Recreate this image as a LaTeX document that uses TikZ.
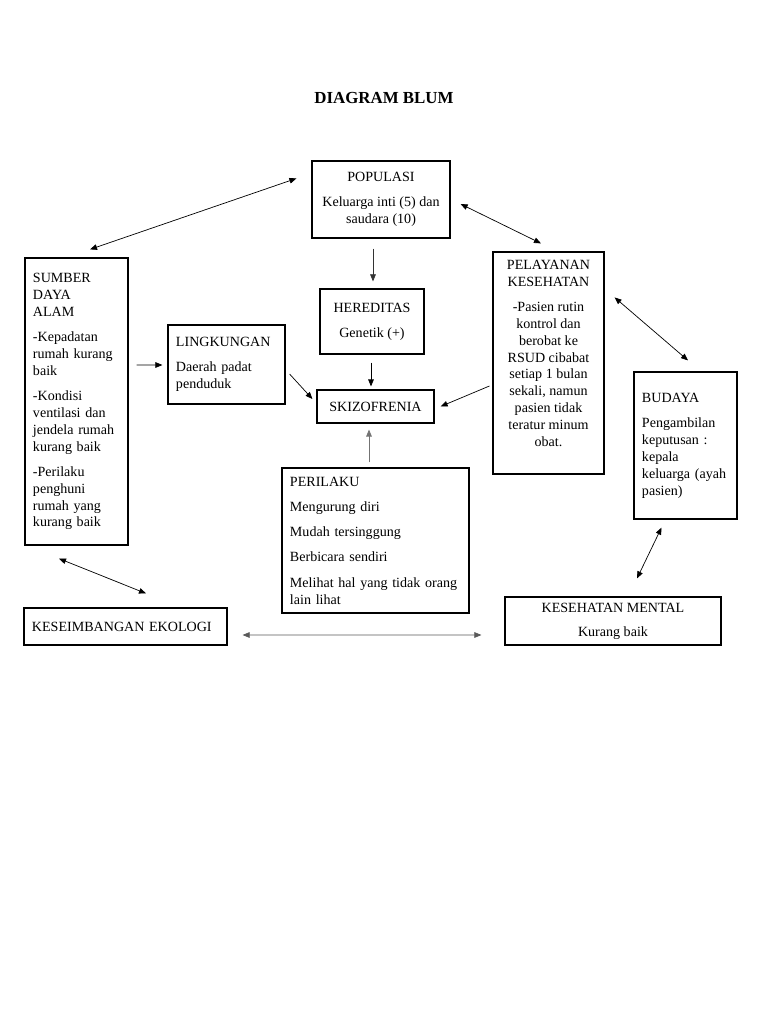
\documentclass[tikz,border=0pt]{standalone}
\usepackage{fontspec}
\setmainfont{Liberation Serif}
\usetikzlibrary{arrows.meta}

\begin{document}
\begin{tikzpicture}[x=0.025cm,y=-0.025cm,
  every node/.style={font=\fontsize{10}{12}\selectfont},
  kotak/.style={draw,line width=0.8pt,inner ysep=2pt},
  kiri/.style={kotak,align=left,inner xsep=0.2cm},
  tengah/.style={kotak,align=center},
  panah/.style={-{Triangle[length=5pt,width=4pt]},line width=0.5pt},
  duapanah/.style={{Triangle[length=5pt,width=4pt]}-{Triangle[length=5pt,width=4pt]},line width=0.5pt}]
\useasboundingbox (0,0) rectangle (768,1024);

\node[font=\fontsize{12}{14}\selectfont\bfseries] (judul) at (384,98) {DIAGRAM BLUM};

\node[tengah,minimum width=3.45cm,minimum height=1.925cm] (pop) at (381,199.5)
  {POPULASI\\[6pt]Keluarga inti (5) dan\\saudara (10)};
\node[tengah,minimum width=2.6cm,minimum height=1.625cm] (her) at (372,321.5)
  {HEREDITAS\\[6pt]Genetik (+)};
\node[tengah,minimum width=2.925cm,minimum height=0.825cm] (skz) at (375.5,406.5)
  {SKIZOFRENIA};
\node[tengah,minimum width=2.775cm,minimum height=5.55cm] (pel) at (548.5,363)
  {PELAYANAN\\KESEHATAN\\[6pt]-Pasien rutin\\kontrol dan\\berobat ke\\RSUD cibabat\\setiap 1 bulan\\sekali, namun\\pasien tidak\\teratur minum\\obat.\\[2pt]~};
\node[tengah,minimum width=5.4cm,minimum height=1.2cm] (kmen) at (613,621)
  {KESEHATAN MENTAL\\[5pt]Kurang baik};

\node[kiri,text width=2.175cm,minimum height=7.175cm] (sda) at (76.5,401.5)
  {SUMBER\\DAYA\\ALAM\\[6pt]-Kepadatan\\rumah kurang\\baik\\[6pt]-Kondisi\\ventilasi dan\\jendela rumah\\kurang baik\\[6pt]-Perilaku\\penghuni\\rumah yang\\kurang baik};
\node[kiri,text width=2.525cm,minimum height=1.975cm] (lin) at (226.5,364.5)
  {LINGKUNGAN\\[6pt]Daerah padat\\penduduk};
\node[kiri,text width=2.175cm,minimum height=3.675cm] (bud) at (685.5,445.5)
  {BUDAYA\\[6pt]Pengambilan\\keputusan :\\kepala\\keluarga (ayah\\pasien)};
\node[kiri,text width=4.275cm,minimum height=3.625cm] (per) at (375.5,540.5)
  {PERILAKU\\[6pt]Mengurung diri\\[6pt]Mudah tersinggung\\[6pt]Berbicara sendiri\\[6pt]Melihat hal yang tidak orang\\lain lihat};
\node[kiri,text width=4.675cm,minimum height=0.925cm] (keko) at (125.5,626.5)
  {KESEIMBANGAN EKOLOGI};

\draw[duapanah] ([shift={(13.5,-8)}]sda.north) -- ([shift={(-15,18)}]pop.north west);
\draw[duapanah] ([shift={(10,4.5)}]pop.east) -- ([shift={(-7.5,-8)}]pel.north);
\draw[duapanah] ([shift={(10,46)}]pel.north east) -- ([shift={(2.5,-11)}]bud.north);
\draw[duapanah] ([shift={(-24,8)}]bud.south) -- ([shift={(24,-18)}]kmen.north);
\draw[duapanah,black!65] ([shift={(15,8.5)}]keko.east) -- ([shift={(-23,14)}]kmen.west);
\draw[duapanah] ([shift={(-17.5,13)}]sda.south) -- ([shift={(20.5,-14)}]keko.north);

\draw[panah,black!80] ([shift={(-8,10)}]pop.south) -- ([shift={(1,-7)}]her.north);
\draw[panah] ([shift={(-1,8)}]her.south) -- ([shift={(-4.5,-3)}]skz.north);
\draw[panah] ([shift={(4,9.5)}]lin.east) -- ([shift={(-4,-7.5)}]skz.west);
\draw[panah] ([shift={(8,-36.5)}]sda.east) -- ([shift={(-5,0.5)}]lin.west);
\draw[panah] ([shift={(-3,23)}]pel.west) -- ([shift={(6,0)}]skz.east);
\draw[panah,black!55] ([shift={(-6.5,-5)}]per.north) -- ([shift={(-6.5,6)}]skz.south);
\end{tikzpicture}
\end{document}
